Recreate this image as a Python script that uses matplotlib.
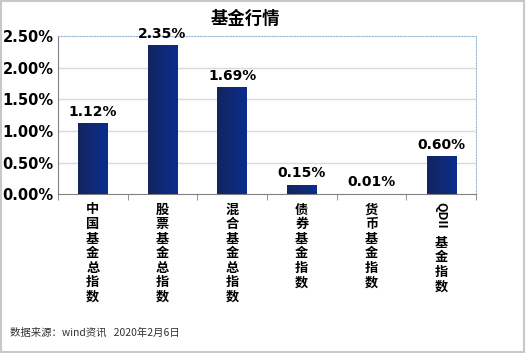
import matplotlib
matplotlib.use("Agg")
import matplotlib.pyplot as plt
import numpy as np
from matplotlib.colors import LinearSegmentedColormap
from matplotlib.patches import Rectangle

plt.rcParams['font.family'] = ['Noto Sans CJK SC', 'DejaVu Sans']

categories = ["中国基金总指数", "股票基金总指数", "混合基金总指数", "债券基金指数", "货币基金指数", "QDII基金指数"]
values = [1.12, 2.35, 1.69, 0.15, 0.01, 0.60]
labels = ["1.12%", "2.35%", "1.69%", "0.15%", "0.01%", "0.60%"]
yticks = [0.0, 0.5, 1.0, 1.5, 2.0, 2.5]
ytick_labels = ["0.00%", "0.50%", "1.00%", "1.50%", "2.00%", "2.50%"]

fig = plt.figure(figsize=(5.26, 3.53), dpi=100)
fig.patch.set_facecolor("white")
# figure border
fig.add_artist(Rectangle((0.002, 0.003), 0.995, 0.993, transform=fig.transFigure,
                         fill=False, edgecolor="#c8c8c8", linewidth=1.5))

ax = fig.add_axes([0.110, 0.450, 0.795, 0.448])
x = np.arange(len(categories))
bw = 0.42
cmap = LinearSegmentedColormap.from_list("g", ["#14255e", "#0a2e8e"])
bars = ax.bar(x, values, width=bw, color="#0e2a78", zorder=3)
grad = np.linspace(0, 1, 64).reshape(1, -1)
for b in bars:
    b.set_facecolor("none")
    im = ax.imshow(grad, cmap=cmap, aspect="auto", zorder=3,
                   extent=[b.get_x(), b.get_x() + b.get_width(), 0, max(b.get_height(), 1e-6)])
    im.set_clip_path(b)

ax.set_xlim(-0.5, len(categories) - 0.5)
ax.set_ylim(0, 2.5)
ax.set_yticks(yticks)
ax.set_yticklabels(ytick_labels, fontsize=10.5, fontweight="bold", family="DejaVu Sans")
ax.tick_params(axis="y", length=0, pad=3)
ax.set_xticks(np.arange(len(categories) + 1) - 0.5, minor=True)
ax.set_xticks([])
ax.tick_params(axis="x", which="minor", length=4, color="#808080", direction="out")
for yv in yticks[1:-1]:
    ax.axhline(yv, color="#d9d9d9", linewidth=1, zorder=1)

for s in ["left", "bottom"]:
    ax.spines[s].set_color("#808080")
for s in ["top", "right"]:
    ax.spines[s].set_color("#9ab8d8")
    ax.spines[s].set_linestyle((0, (1, 1.5)))

for xi, v, lab in zip(x, values, labels):
    ax.annotate(lab, (xi, v), xytext=(0, 3), textcoords="offset points",
                ha="center", va="bottom", fontsize=10, fontweight="bold", family="DejaVu Sans")

# vertical stacked category labels
for xi, cat in zip(x, categories):
    if cat.startswith("QDII"):
        ax.annotate("QDII", (xi, 0), xycoords=("data", "axes fraction"),
                    xytext=(0, -6), textcoords="offset points", rotation=-90,
                    ha="center", va="top", fontsize=9, fontweight="bold")
        rest = cat[4:]
        ax.annotate("\n".join(rest), (xi, 0), xycoords=("data", "axes fraction"),
                    xytext=(0, -30), textcoords="offset points",
                    ha="center", va="top", fontsize=9.5, fontweight="bold", linespacing=1.05)
    else:
        ax.annotate("\n".join(cat), (xi, 0), xycoords=("data", "axes fraction"),
                    xytext=(0, -6), textcoords="offset points",
                    ha="center", va="top", fontsize=9.5, fontweight="bold", linespacing=1.05)

fig.text(0.466, 0.945, "基金行情", ha="center", va="center", fontsize=12.5, fontweight="bold")
fig.text(0.019, 0.058, "数据来源：wind资讯   2020年2月6日", ha="left", va="center", fontsize=7.5, color="#333333")

fig.savefig("out.png", dpi=100, facecolor="white")
